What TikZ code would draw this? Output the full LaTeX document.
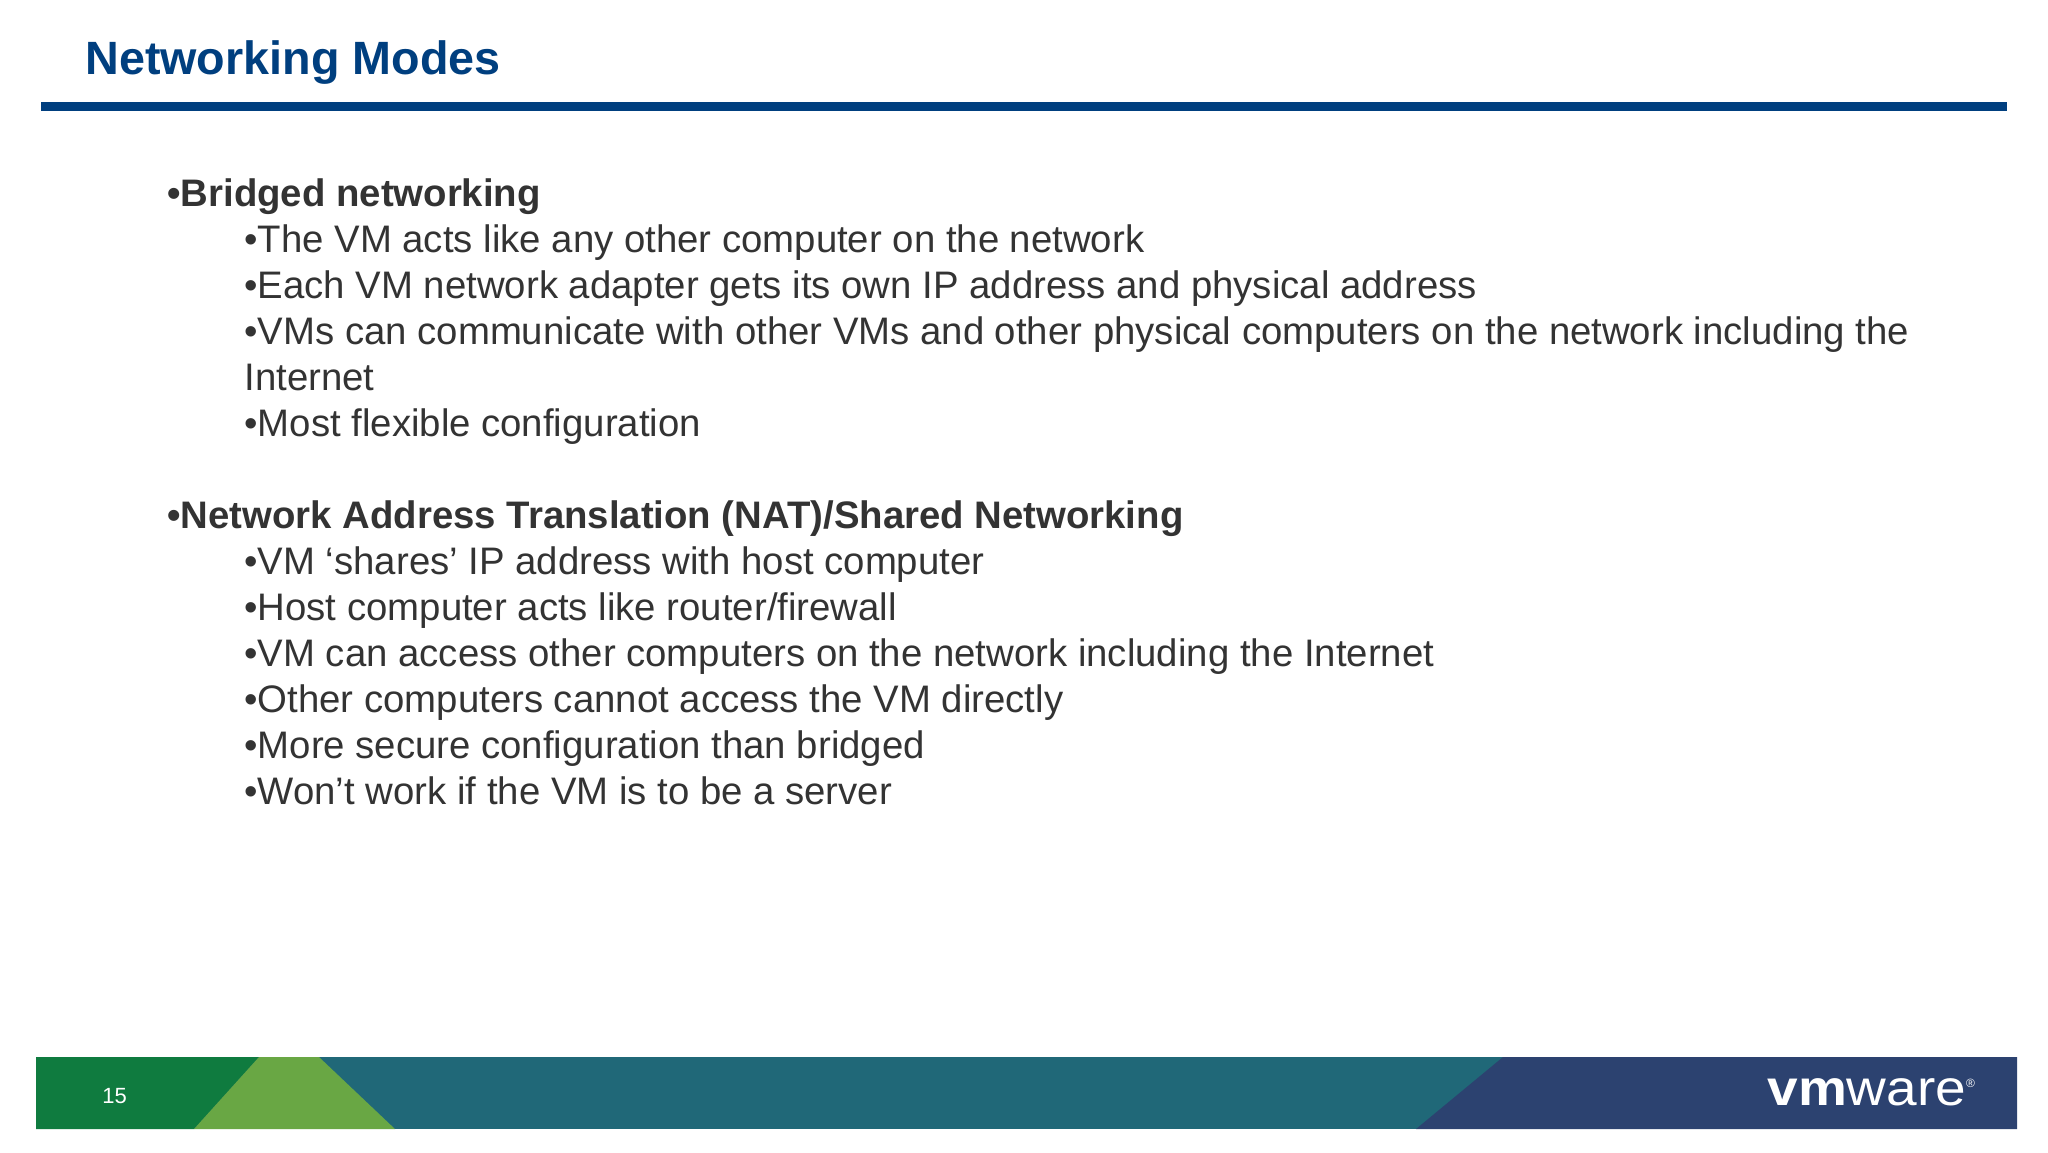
\documentclass[tikz,border=0pt]{standalone}
\usepackage{fontspec}
\setmainfont{Liberation Sans}
\definecolor{titleblue}{HTML}{003F7F}
\definecolor{bodygray}{HTML}{333333}
\definecolor{footgreen}{HTML}{0F7B3F}
\definecolor{footlime}{HTML}{69A744}
\definecolor{footteal}{HTML}{206878}
\definecolor{footnavy}{HTML}{2C4270}
\tikzset{
  bodyline/.style={anchor=base west, inner sep=0pt, text=bodygray, font=\fontsize{19.17pt}{23pt}\selectfont},
  headline/.style={bodyline, font=\fontsize{19.17pt}{23pt}\selectfont\bfseries},
}
\begin{document}
\begin{tikzpicture}[x=0.5pt, y=-0.5pt]
\useasboundingbox (0, 0) rectangle (2048, 1152);
\fill[white] (0, 0) rectangle (2048, 1152);
\node[anchor=base west, inner sep=0pt, text=titleblue, font=\fontsize{23.35pt}{28pt}\selectfont\bfseries] (title) at (85, 74.5) {Networking Modes};
\fill[titleblue] (41, 102) rectangle (2007, 111);
\node[headline] (bridged) at (167, 206) {•Bridged networking};
\node[bodyline] (bridgedA) at (244, 252) {•The VM acts like any other computer on the network};
\node[bodyline] (bridgedB) at (244, 298) {•Each VM network adapter gets its own IP address and physical address};
\node[bodyline] (bridgedC) at (244, 344) {•VMs can communicate with other VMs and other physical computers on the network including the};
\node[bodyline] (bridgedD) at (244, 390) {Internet};
\node[bodyline] (bridgedE) at (244, 436) {•Most flexible configuration};
\node[headline] (nat) at (167, 528) {•Network Address Translation (NAT)/Shared Networking};
\node[bodyline] (natA) at (244, 574) {•VM ‘shares’ IP address with host computer};
\node[bodyline] (natB) at (244, 620) {•Host computer acts like router/firewall};
\node[bodyline] (natC) at (244, 666) {•VM can access other computers on the network including the Internet};
\node[bodyline] (natD) at (244, 712) {•Other computers cannot access the VM directly};
\node[bodyline] (natE) at (244, 758) {•More secure configuration than bridged};
\node[bodyline] (natF) at (244, 804) {•Won’t work if the VM is to be a server};
% footer band
\fill[footteal] (36, 1057) rectangle (2017, 1129);
\fill[footgreen] (36, 1057) -- (259, 1057) -- (194, 1129) -- (36, 1129) -- cycle;
\fill[footlime] (259, 1057) -- (319, 1057) -- (395, 1129) -- (194, 1129) -- cycle;
\fill[footnavy] (1503, 1057) -- (2017, 1057) -- (2017, 1129) -- (1416, 1129) -- cycle;
\node[anchor=base west, inner sep=0pt, text=white, font=\fontsize{11pt}{13pt}\selectfont] (pagenum) at (102, 1103) {15};
\node[anchor=base west, inner sep=0pt, text=white, font=\fontsize{25pt}{30pt}\selectfont] (logo) at (1767, 1105) {\scalebox{1.1}[1]{\textbf{vm}ware}\raisebox{9pt}{\fontsize{6pt}{7pt}\selectfont ®}};
\end{tikzpicture}
\end{document}
